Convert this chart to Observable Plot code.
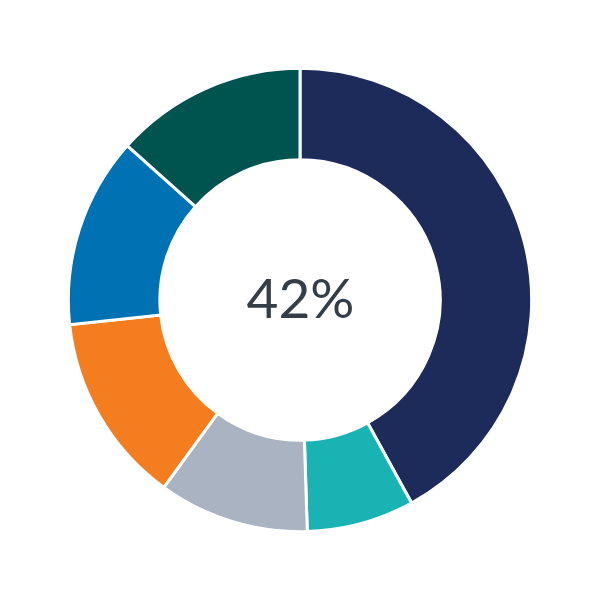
<!DOCTYPE html>
<html>
<head>
<meta charset="utf-8">
<script src="https://cdn.jsdelivr.net/npm/d3@7"></script>
<script src="https://cdn.jsdelivr.net/npm/@observablehq/plot@0.6"></script>
<style>
  html, body { margin: 0; padding: 0; background: #fff; }
  #chart { width: 600px; height: 600px; }
</style>
</head>
<body>
<div id="chart"></div>
<script>
const categories = ["A", "B", "C", "D", "E", "F"];
const values = [42, 7.5, 10.5, 13.3, 13.3, 13.4];
const colors = ["#1c2b5a", "#1ab3b4", "#a9b3c2", "#f47d20", "#0072b4", "#00544f"];
const centerLabel = "42%";

const data = categories.map((c, i) => ({category: c, value: values[i]}));

const donut = (index, scales, channels, dimensions, context) => {
  const cx = scales.x(0), cy = scales.y(0);
  const outer = Math.abs(scales.x(1) - scales.x(0));
  const inner = outer * 0.605;
  const pie = d3.pie().sort(null).value(d => d.value)(data);
  const arc = d3.arc().innerRadius(inner).outerRadius(outer);
  const g = d3.create("svg:g").attr("transform", `translate(${cx},${cy})`);
  g.selectAll("path")
    .data(pie)
    .join("path")
    .attr("d", arc)
    .attr("fill", d => scales.color(d.data.category))
    .attr("stroke", "#fff")
    .attr("stroke-width", 3)
    .attr("stroke-linejoin", "miter");
  return g.node();
};

const chart = Plot.plot({
  width: 600,
  height: 600,
  margin: 0,
  x: {domain: [-1.295, 1.295], axis: null},
  y: {domain: [-1.295, 1.295], axis: null},
  color: {domain: categories, range: colors},
  style: {background: "#fff"},
  marks: [
    donut,
    Plot.text([centerLabel], {
      x: () => 0, y: () => 0, text: d => d,
      fontSize: 55, fontWeight: 400, fill: "#333e48",
      fontFamily: "Lato", textAnchor: "middle"
    })
  ]
});
document.getElementById("chart").appendChild(chart);
</script>
</body>
</html>
